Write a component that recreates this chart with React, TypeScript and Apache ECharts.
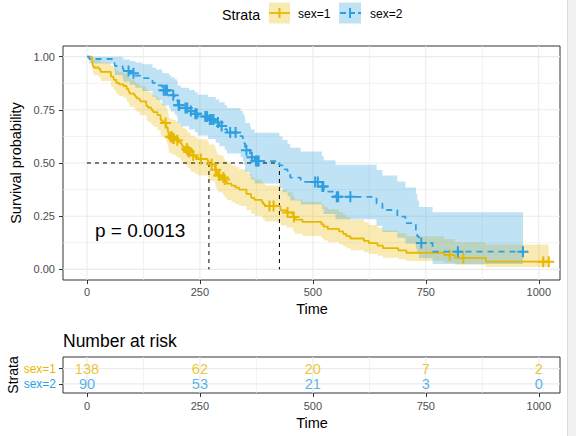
import { useEffect, useRef } from "react";
import * as echarts from "echarts";

const YELLOW = "#E7B800";
const BLUE = "#2E9FDF";
const YELLOW_FILL = "rgba(231,184,0,0.3)";
const BLUE_FILL = "rgba(46,159,223,0.3)";
const FONT = "'Liberation Sans', Arial, sans-serif";
const TICK_COLOR = "#4d4d4d";

// Kaplan-Meier steps, sex=1
const sex1Times = [0, 11, 12, 13, 15, 26, 30, 31, 53, 54, 59, 60, 65, 71, 81, 88, 92, 93, 95, 105, 107, 110, 116, 118, 131, 132, 135, 142, 144, 147, 156, 163, 166, 170, 175, 176, 177, 179, 180, 181, 183, 189, 197, 202, 207, 210, 212, 218, 222, 223, 229, 230, 239, 246, 267, 269, 270, 283, 284, 285, 286, 288, 291, 301, 303, 306, 310, 320, 329, 337, 353, 363, 364, 371, 387, 390, 394, 428, 429, 442, 455, 457, 460, 477, 519, 524, 533, 558, 567, 574, 583, 613, 624, 643, 655, 689, 707, 791, 814, 883, 1022];
const sex1Surv = [1, 0.978, 0.971, 0.957, 0.949, 0.942, 0.935, 0.928, 0.913, 0.906, 0.899, 0.891, 0.877, 0.870, 0.862, 0.848, 0.841, 0.833, 0.826, 0.819, 0.812, 0.804, 0.797, 0.790, 0.783, 0.768, 0.761, 0.754, 0.746, 0.739, 0.725, 0.703, 0.696, 0.688, 0.681, 0.674, 0.666, 0.652, 0.645, 0.630, 0.623, 0.615, 0.607, 0.600, 0.592, 0.584, 0.576, 0.568, 0.561, 0.553, 0.544, 0.536, 0.528, 0.519, 0.511, 0.502, 0.494, 0.485, 0.476, 0.468, 0.459, 0.450, 0.441, 0.432, 0.423, 0.413, 0.403, 0.394, 0.384, 0.375, 0.355, 0.346, 0.336, 0.327, 0.317, 0.307, 0.298, 0.287, 0.277, 0.267, 0.256, 0.246, 0.234, 0.223, 0.212, 0.201, 0.190, 0.179, 0.167, 0.156, 0.145, 0.134, 0.123, 0.112, 0.100, 0.089, 0.078, 0.067, 0.054, 0.036, 0.036];
const sex1Lower = [1, 0.954, 0.943, 0.923, 0.913, 0.904, 0.895, 0.885, 0.867, 0.858, 0.850, 0.841, 0.824, 0.815, 0.807, 0.790, 0.782, 0.773, 0.765, 0.757, 0.749, 0.741, 0.733, 0.725, 0.717, 0.701, 0.693, 0.685, 0.677, 0.669, 0.654, 0.631, 0.623, 0.615, 0.608, 0.600, 0.592, 0.577, 0.569, 0.554, 0.547, 0.539, 0.531, 0.523, 0.515, 0.507, 0.499, 0.491, 0.483, 0.475, 0.466, 0.458, 0.449, 0.441, 0.432, 0.424, 0.415, 0.407, 0.398, 0.389, 0.380, 0.372, 0.363, 0.354, 0.345, 0.335, 0.326, 0.316, 0.307, 0.298, 0.279, 0.270, 0.261, 0.252, 0.243, 0.234, 0.225, 0.216, 0.206, 0.197, 0.187, 0.177, 0.167, 0.157, 0.147, 0.137, 0.128, 0.118, 0.109, 0.099, 0.090, 0.081, 0.072, 0.064, 0.055, 0.047, 0.039, 0.031, 0.022, 0.011, 0.011];
const sex1Upper = [1, 1, 0.999, 0.991, 0.987, 0.982, 0.977, 0.972, 0.961, 0.956, 0.950, 0.945, 0.933, 0.928, 0.922, 0.910, 0.904, 0.898, 0.892, 0.886, 0.880, 0.873, 0.867, 0.861, 0.855, 0.842, 0.835, 0.829, 0.823, 0.816, 0.803, 0.783, 0.777, 0.770, 0.763, 0.757, 0.750, 0.736, 0.730, 0.716, 0.709, 0.702, 0.695, 0.687, 0.680, 0.673, 0.665, 0.658, 0.651, 0.643, 0.635, 0.628, 0.620, 0.612, 0.603, 0.595, 0.587, 0.579, 0.570, 0.562, 0.554, 0.545, 0.536, 0.527, 0.518, 0.509, 0.500, 0.490, 0.481, 0.471, 0.452, 0.443, 0.433, 0.423, 0.413, 0.404, 0.394, 0.383, 0.373, 0.363, 0.351, 0.341, 0.329, 0.318, 0.306, 0.294, 0.282, 0.270, 0.258, 0.246, 0.234, 0.221, 0.209, 0.196, 0.183, 0.170, 0.156, 0.143, 0.128, 0.117, 0.117];
const sex1Censor = [174, 185, 188, 191, 192, 200, 221, 222, 225, 226, 235, 252, 276, 285, 292, 293, 302, 305, 404, 413, 444, 458, 803, 833, 1010, 1022];

// Kaplan-Meier steps, sex=2
const sex2Times = [0, 5, 60, 61, 62, 79, 81, 95, 107, 122, 145, 153, 166, 167, 182, 186, 194, 199, 201, 208, 226, 239, 245, 268, 285, 293, 305, 310, 340, 345, 348, 350, 351, 361, 363, 371, 426, 433, 444, 450, 473, 520, 524, 550, 641, 654, 687, 705, 728, 731, 735, 765, 965];
const sex2Surv = [1, 0.989, 0.978, 0.967, 0.956, 0.944, 0.933, 0.922, 0.911, 0.899, 0.877, 0.865, 0.854, 0.842, 0.831, 0.819, 0.807, 0.795, 0.771, 0.758, 0.745, 0.732, 0.719, 0.705, 0.690, 0.674, 0.659, 0.643, 0.626, 0.610, 0.593, 0.577, 0.560, 0.543, 0.527, 0.509, 0.489, 0.470, 0.450, 0.431, 0.411, 0.389, 0.365, 0.341, 0.310, 0.279, 0.248, 0.217, 0.186, 0.155, 0.124, 0.083, 0.083];
const sex2Lower = [1, 0.968, 0.948, 0.930, 0.914, 0.898, 0.883, 0.868, 0.854, 0.839, 0.811, 0.797, 0.783, 0.770, 0.756, 0.742, 0.728, 0.714, 0.687, 0.673, 0.658, 0.644, 0.629, 0.613, 0.596, 0.579, 0.562, 0.545, 0.527, 0.509, 0.491, 0.474, 0.457, 0.439, 0.422, 0.404, 0.383, 0.363, 0.344, 0.324, 0.305, 0.284, 0.260, 0.236, 0.205, 0.176, 0.149, 0.122, 0.097, 0.074, 0.052, 0.025, 0.025];
const sex2Upper = [1, 1, 1, 1, 0.999, 0.993, 0.986, 0.979, 0.972, 0.964, 0.948, 0.939, 0.931, 0.922, 0.913, 0.903, 0.894, 0.884, 0.864, 0.854, 0.843, 0.833, 0.821, 0.810, 0.798, 0.785, 0.772, 0.759, 0.745, 0.731, 0.717, 0.702, 0.688, 0.673, 0.658, 0.642, 0.625, 0.608, 0.590, 0.572, 0.554, 0.534, 0.513, 0.492, 0.467, 0.441, 0.413, 0.385, 0.355, 0.324, 0.293, 0.269, 0.269];
const sex2Censor = [92, 103, 170, 174, 177, 191, 203, 204, 218, 222, 230, 240, 243, 262, 266, 272, 276, 280, 290, 298, 317, 329, 353, 365, 374, 377, 380, 505, 511, 521, 523, 553, 556, 583, 740, 821, 965];

const medianTimes = [270, 426];
const pValueText = "p = 0.0013";

const xTicks = [0, 250, 500, 750, 1000];
const xMinor = [125, 375, 625, 875];
const yTicks = [0, 0.25, 0.5, 0.75, 1];
const yMinor = [0.125, 0.375, 0.625, 0.875];

// number at risk table
const riskTimes = [0, 250, 500, 750, 1000];
const sex1Risk = [138, 62, 20, 7, 2];
const sex2Risk = [90, 53, 21, 3, 0];

const X_MIN = -53;
const X_MAX = 1047;
const Y_MIN = -0.05;
const Y_MAX = 1.05;
const R_MIN = 0.4;
const R_MAX = 2.76;

const CROSS = "path://M4.5,0h2v4.5h4.5v2h-4.5v4.5h-2v-4.5h-4.5v-2h4.5z";

function survAt(times: number[], surv: number[], t: number) {
  let s = surv[0];
  for (let i = 0; i < times.length; i++) if (times[i] <= t) s = surv[i];
  return s;
}

function stepBand(times: number[], lower: number[], upper: number[]) {
  const top: number[][] = [];
  const bottom: number[][] = [];
  for (let i = 0; i < times.length; i++) {
    top.push([times[i], upper[i]]);
    bottom.push([times[i], lower[i]]);
    if (i + 1 < times.length) {
      top.push([times[i + 1], upper[i]]);
      bottom.push([times[i + 1], lower[i]]);
    }
  }
  return top.concat(bottom.reverse());
}

function bandSeries(times: number[], lower: number[], upper: number[], fill: string) {
  const poly = stepBand(times, lower, upper);
  return {
    type: "custom",
    xAxisIndex: 0,
    yAxisIndex: 0,
    silent: true,
    data: [[0, 0]],
    renderItem: (_p: any, api: any) => ({
      type: "polygon",
      shape: { points: poly.map((pt) => api.coord(pt)) },
      style: { fill },
    }),
  };
}

function gridLines(idx: number, xs: number[], ys: number[], yMin: number, yMax: number, width: number) {
  return {
    type: "custom",
    xAxisIndex: idx,
    yAxisIndex: idx,
    silent: true,
    data: [[0, 0]],
    renderItem: (_p: any, api: any) => {
      const children: any[] = [];
      xs.forEach((v) => {
        const a = api.coord([v, yMin]);
        const b = api.coord([v, yMax]);
        children.push({ type: "line", shape: { x1: a[0], y1: a[1], x2: b[0], y2: b[1] }, style: { stroke: "#ebebeb", lineWidth: width } });
      });
      ys.forEach((v) => {
        const a = api.coord([X_MIN, v]);
        const b = api.coord([X_MAX, v]);
        children.push({ type: "line", shape: { x1: a[0], y1: a[1], x2: b[0], y2: b[1] }, style: { stroke: "#ebebeb", lineWidth: width } });
      });
      return { type: "group", children };
    },
  };
}

function axisX(gridIndex: number, margin: number) {
  return {
    type: "value",
    gridIndex,
    min: X_MIN,
    max: X_MAX,
    axisLine: { show: false, onZero: false },
    axisTick: { show: true, length: 4, customValues: xTicks, lineStyle: { color: "#333" } },
    axisLabel: { customValues: xTicks, color: TICK_COLOR, fontSize: 11, fontFamily: FONT, margin, formatter: (v: number) => String(v) },
    splitLine: { show: false },
  };
}

export default function App() {
  const chartRef = useRef<HTMLDivElement>(null);

  useEffect(() => {
    const chart = echarts.init(chartRef.current, null, { renderer: "svg" });

    const medianSeries = {
      type: "custom",
      xAxisIndex: 0,
      yAxisIndex: 0,
      silent: true,
      data: [[0, 0]],
      renderItem: (_p: any, api: any) => {
        const children: any[] = [];
        const a = api.coord([0, 0.5]);
        const b = api.coord([Math.max(...medianTimes), 0.5]);
        children.push({ type: "line", shape: { x1: a[0], y1: a[1], x2: b[0], y2: b[1] }, style: { stroke: "#000", lineWidth: 1, lineDash: [4, 4] } });
        medianTimes.forEach((t) => {
          const c = api.coord([t, 0.5]);
          const d = api.coord([t, 0]);
          children.push({ type: "line", shape: { x1: c[0], y1: c[1], x2: d[0], y2: d[1] }, style: { stroke: "#000", lineWidth: 1, lineDash: [4, 4] } });
        });
        return { type: "group", children };
      },
    };

    const riskLabel = (color: string) => ({
      show: true,
      position: "inside",
      formatter: (p: any) => String(p.value[2]),
      color,
      fontSize: 14.5,
      lineHeight: 14,
      fontFamily: FONT,
    });

    const options = {
      animation: false,
      grid: [
        { left: 63, top: 46, width: 497, height: 234, show: true, borderColor: "#333", borderWidth: 1, backgroundColor: "#fff" },
        { left: 63, top: 357, width: 497, height: 36, show: true, borderColor: "#333", borderWidth: 1, backgroundColor: "#fff" },
      ],
      xAxis: [axisX(0, 6), axisX(1, 7)],
      yAxis: [
        {
          type: "value",
          gridIndex: 0,
          min: Y_MIN,
          max: Y_MAX,
          axisLine: { show: false, onZero: false },
          axisTick: { show: true, length: 4, customValues: yTicks, lineStyle: { color: "#333" } },
          axisLabel: { customValues: yTicks, color: TICK_COLOR, fontSize: 11, fontFamily: FONT, margin: 8, formatter: (v: number) => v.toFixed(2) },
          splitLine: { show: false },
        },
        {
          type: "value",
          gridIndex: 1,
          min: R_MIN,
          max: R_MAX,
          axisLine: { show: false, onZero: false },
          axisTick: { show: true, length: 4, customValues: [1, 2], lineStyle: { color: "#333" } },
          axisLabel: {
            customValues: [1, 2],
            fontSize: 12,
            fontFamily: FONT,
            margin: 7,
            formatter: (v: number) => (v === 2 ? "sex=1" : "sex=2"),
            color: (v: any) => (Number(v) === 2 ? YELLOW : BLUE),
          },
          splitLine: { show: false },
        },
      ],
      series: [
        gridLines(0, xMinor, yMinor, Y_MIN, Y_MAX, 0.7),
        gridLines(0, xTicks, yTicks, Y_MIN, Y_MAX, 1.1),
        gridLines(1, xMinor, [], R_MIN, R_MAX, 0.7),
        gridLines(1, xTicks, [1, 2], R_MIN, R_MAX, 1.1),
        bandSeries(sex1Times, sex1Lower, sex1Upper, YELLOW_FILL),
        bandSeries(sex2Times, sex2Lower, sex2Upper, BLUE_FILL),
        medianSeries,
        {
          name: "sex=1",
          type: "line",
          step: "end",
          showSymbol: false,
          data: sex1Times.map((t, i) => [t, sex1Surv[i]]),
          lineStyle: { color: YELLOW, width: 1.8 },
          itemStyle: { color: YELLOW },
        },
        {
          name: "sex=2",
          type: "line",
          step: "end",
          showSymbol: false,
          data: sex2Times.map((t, i) => [t, sex2Surv[i]]),
          lineStyle: { color: BLUE, width: 1.8, type: [6, 5] },
          itemStyle: { color: BLUE },
        },
        {
          type: "scatter",
          symbol: CROSS,
          symbolSize: 11,
          data: sex1Censor.map((t) => [t, survAt(sex1Times, sex1Surv, t)]),
          itemStyle: { color: YELLOW, opacity: 1 },
        },
        {
          type: "scatter",
          symbol: CROSS,
          symbolSize: 11,
          data: sex2Censor.map((t) => [t, survAt(sex2Times, sex2Surv, t)]),
          itemStyle: { color: BLUE, opacity: 1 },
        },
        {
          type: "scatter",
          xAxisIndex: 1,
          yAxisIndex: 1,
          symbolSize: 1,
          itemStyle: { color: "transparent" },
          data: riskTimes.map((t, i) => [t, 2, sex1Risk[i]]),
          label: riskLabel(YELLOW),
        },
        {
          type: "scatter",
          xAxisIndex: 1,
          yAxisIndex: 1,
          symbolSize: 1,
          itemStyle: { color: "transparent" },
          data: riskTimes.map((t, i) => [t, 1, sex2Risk[i]]),
          label: riskLabel(BLUE),
        },
      ],
      graphic: [
        { type: "rect", silent: true, shape: { x: 567.5, y: -1, width: 10, height: 438 }, style: { fill: "#f1f1f1", stroke: "#dcdcdc", lineWidth: 1 } },
        // legend
        { type: "text", x: 222, y: 15, style: { text: "Strata", fontSize: 14.3, fontFamily: FONT, fill: "#000", verticalAlign: "middle" } },
        { type: "rect", shape: { x: 269, y: 2.5, width: 21, height: 21 }, style: { fill: YELLOW_FILL } },
        { type: "line", shape: { x1: 269, y1: 13, x2: 290, y2: 13 }, style: { stroke: YELLOW, lineWidth: 1.8 } },
        { type: "line", shape: { x1: 279.5, y1: 8, x2: 279.5, y2: 18 }, style: { stroke: YELLOW, lineWidth: 2 } },
        { type: "text", x: 298, y: 14, style: { text: "sex=1", fontSize: 12, fontFamily: FONT, fill: "#000", verticalAlign: "middle" } },
        { type: "rect", shape: { x: 339, y: 2.5, width: 22, height: 21 }, style: { fill: BLUE_FILL } },
        { type: "line", shape: { x1: 340, y1: 13, x2: 361, y2: 13 }, style: { stroke: BLUE, lineWidth: 1.8, lineDash: [6, 3] } },
        { type: "line", shape: { x1: 350, y1: 8, x2: 350, y2: 18 }, style: { stroke: BLUE, lineWidth: 2 } },
        { type: "text", x: 370, y: 14, style: { text: "sex=2", fontSize: 12, fontFamily: FONT, fill: "#000", verticalAlign: "middle" } },
        // axis titles
        { type: "text", x: 16, y: 163, rotation: Math.PI / 2, style: { text: "Survival probability", fontSize: 14.5, fontFamily: FONT, fill: "#000", align: "center", verticalAlign: "middle" } },
        { type: "text", x: 312, y: 309, style: { text: "Time", fontSize: 14.5, fontFamily: FONT, fill: "#000", align: "center", verticalAlign: "middle" } },
        { type: "text", x: 95, y: 230, style: { text: pValueText, fontSize: 19, fontFamily: FONT, fill: "#000", verticalAlign: "middle" } },
        // risk table titles
        { type: "text", x: 63, y: 341, style: { text: "Number at risk", fontSize: 17.5, fontFamily: FONT, fill: "#000", verticalAlign: "middle" } },
        { type: "text", x: 12.5, y: 375, rotation: Math.PI / 2, style: { text: "Strata", fontSize: 14, fontFamily: FONT, fill: "#000", align: "center", verticalAlign: "middle" } },
        { type: "text", x: 312, y: 423, style: { text: "Time", fontSize: 14.5, fontFamily: FONT, fill: "#000", align: "center", verticalAlign: "middle" } },
      ],
    };

    chart.setOption(options as any);

    return () => {
      chart.dispose();
    };
  }, []);

  return (
    <div
      ref={chartRef}
      style={{ position: "fixed", left: 0, top: 0, width: "576px", height: "436px", background: "#fff" }}
    />
  );
}
